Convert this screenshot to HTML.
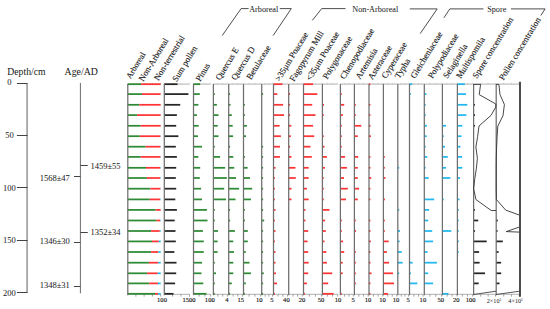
<!DOCTYPE html>
<html><head><meta charset="utf-8"><style>
html,body{margin:0;padding:0;background:#fff;}
body{width:550px;height:309px;overflow:hidden;}
svg{display:block;}
text{font-family:"Liberation Serif",serif;fill:#151515;}
.r{stroke:#151515;stroke-width:0.12px;}
.n{stroke:#151515;stroke-width:0.15px;}
</style></head><body>
<svg width="550" height="309" viewBox="0 0 550 309">
<rect width="550" height="309" fill="#fff"/>
<text x="7.30" y="75.00" font-size="9.7" text-anchor="start" >Depth/cm</text>
<line x1="27.10" y1="83.40" x2="27.10" y2="292.40" stroke="#a6a6a6" stroke-width="1.8"/>
<line x1="16.90" y1="83.50" x2="27.60" y2="83.50" stroke="#444" stroke-width="1.0"/>
<text x="9.40" y="85.10" font-size="8.5" text-anchor="middle" >0</text>
<line x1="16.90" y1="135.50" x2="27.60" y2="135.50" stroke="#444" stroke-width="1.0"/>
<text x="9.40" y="138.45" font-size="8.5" text-anchor="middle" >50</text>
<line x1="16.90" y1="187.50" x2="27.60" y2="187.50" stroke="#444" stroke-width="1.0"/>
<text x="9.40" y="190.80" font-size="8.5" text-anchor="middle" >100</text>
<line x1="16.90" y1="240.50" x2="27.60" y2="240.50" stroke="#444" stroke-width="1.0"/>
<text x="9.40" y="243.45" font-size="8.5" text-anchor="middle" >150</text>
<line x1="16.90" y1="292.50" x2="27.60" y2="292.50" stroke="#444" stroke-width="1.0"/>
<text x="9.40" y="295.70" font-size="8.5" text-anchor="middle" >200</text>
<text x="64.60" y="74.80" font-size="9.8" text-anchor="start" >Age/AD</text>
<line x1="80.40" y1="82.90" x2="80.40" y2="293.30" stroke="#6c6c6c" stroke-width="1.0"/>
<line x1="74.00" y1="176.50" x2="80.40" y2="176.50" stroke="#444" stroke-width="1.0"/>
<text x="69.80" y="180.80" font-size="8.5" text-anchor="end" >1568±47</text>
<line x1="74.00" y1="242.50" x2="80.40" y2="242.50" stroke="#444" stroke-width="1.0"/>
<text x="69.80" y="243.70" font-size="8.5" text-anchor="end" >1346±30</text>
<line x1="74.00" y1="286.50" x2="80.40" y2="286.50" stroke="#444" stroke-width="1.0"/>
<text x="69.80" y="288.10" font-size="8.5" text-anchor="end" >1348±31</text>
<line x1="80.40" y1="165.50" x2="87.80" y2="165.50" stroke="#444" stroke-width="1.0"/>
<text x="90.40" y="168.50" font-size="8.5" text-anchor="start" >1459±55</text>
<line x1="80.40" y1="232.50" x2="87.80" y2="232.50" stroke="#444" stroke-width="1.0"/>
<text x="90.40" y="234.90" font-size="8.5" text-anchor="start" >1352±34</text>
<line x1="127.60" y1="84.10" x2="160.70" y2="84.10" stroke="#a8a8a8" stroke-width="0.9"/>
<line x1="127.60" y1="294.30" x2="160.70" y2="294.30" stroke="#a8a8a8" stroke-width="0.9"/>
<line x1="135.88" y1="294.30" x2="135.88" y2="296.60" stroke="#8a8a8a" stroke-width="0.8"/>
<line x1="135.88" y1="84.10" x2="135.88" y2="82.90" stroke="#bbb" stroke-width="0.7"/>
<line x1="144.15" y1="294.30" x2="144.15" y2="296.60" stroke="#8a8a8a" stroke-width="0.8"/>
<line x1="144.15" y1="84.10" x2="144.15" y2="82.90" stroke="#bbb" stroke-width="0.7"/>
<line x1="152.42" y1="294.30" x2="152.42" y2="296.60" stroke="#8a8a8a" stroke-width="0.8"/>
<line x1="152.42" y1="84.10" x2="152.42" y2="82.90" stroke="#bbb" stroke-width="0.7"/>
<line x1="160.70" y1="294.30" x2="160.70" y2="296.60" stroke="#8a8a8a" stroke-width="0.8"/>
<line x1="160.70" y1="84.10" x2="160.70" y2="82.90" stroke="#bbb" stroke-width="0.7"/>
<line x1="164.10" y1="84.10" x2="189.50" y2="84.10" stroke="#a8a8a8" stroke-width="0.9"/>
<line x1="164.10" y1="294.30" x2="189.50" y2="294.30" stroke="#a8a8a8" stroke-width="0.9"/>
<line x1="172.57" y1="294.30" x2="172.57" y2="296.60" stroke="#8a8a8a" stroke-width="0.8"/>
<line x1="172.57" y1="84.10" x2="172.57" y2="82.90" stroke="#bbb" stroke-width="0.7"/>
<line x1="181.03" y1="294.30" x2="181.03" y2="296.60" stroke="#8a8a8a" stroke-width="0.8"/>
<line x1="181.03" y1="84.10" x2="181.03" y2="82.90" stroke="#bbb" stroke-width="0.7"/>
<line x1="189.50" y1="294.30" x2="189.50" y2="296.60" stroke="#8a8a8a" stroke-width="0.8"/>
<line x1="189.50" y1="84.10" x2="189.50" y2="82.90" stroke="#bbb" stroke-width="0.7"/>
<line x1="193.30" y1="84.10" x2="210.70" y2="84.10" stroke="#a8a8a8" stroke-width="0.9"/>
<line x1="193.30" y1="294.30" x2="210.70" y2="294.30" stroke="#a8a8a8" stroke-width="0.9"/>
<line x1="199.10" y1="294.30" x2="199.10" y2="296.60" stroke="#8a8a8a" stroke-width="0.8"/>
<line x1="199.10" y1="84.10" x2="199.10" y2="82.90" stroke="#bbb" stroke-width="0.7"/>
<line x1="204.90" y1="294.30" x2="204.90" y2="296.60" stroke="#8a8a8a" stroke-width="0.8"/>
<line x1="204.90" y1="84.10" x2="204.90" y2="82.90" stroke="#bbb" stroke-width="0.7"/>
<line x1="210.70" y1="294.30" x2="210.70" y2="296.60" stroke="#8a8a8a" stroke-width="0.8"/>
<line x1="210.70" y1="84.10" x2="210.70" y2="82.90" stroke="#bbb" stroke-width="0.7"/>
<line x1="213.20" y1="84.10" x2="227.40" y2="84.10" stroke="#a8a8a8" stroke-width="0.9"/>
<line x1="213.20" y1="294.30" x2="227.40" y2="294.30" stroke="#a8a8a8" stroke-width="0.9"/>
<line x1="217.93" y1="294.30" x2="217.93" y2="296.60" stroke="#8a8a8a" stroke-width="0.8"/>
<line x1="217.93" y1="84.10" x2="217.93" y2="82.90" stroke="#bbb" stroke-width="0.7"/>
<line x1="222.67" y1="294.30" x2="222.67" y2="296.60" stroke="#8a8a8a" stroke-width="0.8"/>
<line x1="222.67" y1="84.10" x2="222.67" y2="82.90" stroke="#bbb" stroke-width="0.7"/>
<line x1="227.40" y1="294.30" x2="227.40" y2="296.60" stroke="#8a8a8a" stroke-width="0.8"/>
<line x1="227.40" y1="84.10" x2="227.40" y2="82.90" stroke="#bbb" stroke-width="0.7"/>
<line x1="228.50" y1="84.10" x2="242.40" y2="84.10" stroke="#a8a8a8" stroke-width="0.9"/>
<line x1="228.50" y1="294.30" x2="242.40" y2="294.30" stroke="#a8a8a8" stroke-width="0.9"/>
<line x1="233.13" y1="294.30" x2="233.13" y2="296.60" stroke="#8a8a8a" stroke-width="0.8"/>
<line x1="233.13" y1="84.10" x2="233.13" y2="82.90" stroke="#bbb" stroke-width="0.7"/>
<line x1="237.77" y1="294.30" x2="237.77" y2="296.60" stroke="#8a8a8a" stroke-width="0.8"/>
<line x1="237.77" y1="84.10" x2="237.77" y2="82.90" stroke="#bbb" stroke-width="0.7"/>
<line x1="242.40" y1="294.30" x2="242.40" y2="296.60" stroke="#8a8a8a" stroke-width="0.8"/>
<line x1="242.40" y1="84.10" x2="242.40" y2="82.90" stroke="#bbb" stroke-width="0.7"/>
<line x1="243.30" y1="84.10" x2="260.60" y2="84.10" stroke="#a8a8a8" stroke-width="0.9"/>
<line x1="243.30" y1="294.30" x2="260.60" y2="294.30" stroke="#a8a8a8" stroke-width="0.9"/>
<line x1="249.07" y1="294.30" x2="249.07" y2="296.60" stroke="#8a8a8a" stroke-width="0.8"/>
<line x1="249.07" y1="84.10" x2="249.07" y2="82.90" stroke="#bbb" stroke-width="0.7"/>
<line x1="254.83" y1="294.30" x2="254.83" y2="296.60" stroke="#8a8a8a" stroke-width="0.8"/>
<line x1="254.83" y1="84.10" x2="254.83" y2="82.90" stroke="#bbb" stroke-width="0.7"/>
<line x1="260.60" y1="294.30" x2="260.60" y2="296.60" stroke="#8a8a8a" stroke-width="0.8"/>
<line x1="260.60" y1="84.10" x2="260.60" y2="82.90" stroke="#bbb" stroke-width="0.7"/>
<line x1="261.50" y1="84.10" x2="272.50" y2="84.10" stroke="#a8a8a8" stroke-width="0.9"/>
<line x1="261.50" y1="294.30" x2="272.50" y2="294.30" stroke="#a8a8a8" stroke-width="0.9"/>
<line x1="265.17" y1="294.30" x2="265.17" y2="296.60" stroke="#8a8a8a" stroke-width="0.8"/>
<line x1="265.17" y1="84.10" x2="265.17" y2="82.90" stroke="#bbb" stroke-width="0.7"/>
<line x1="268.83" y1="294.30" x2="268.83" y2="296.60" stroke="#8a8a8a" stroke-width="0.8"/>
<line x1="268.83" y1="84.10" x2="268.83" y2="82.90" stroke="#bbb" stroke-width="0.7"/>
<line x1="272.50" y1="294.30" x2="272.50" y2="296.60" stroke="#8a8a8a" stroke-width="0.8"/>
<line x1="272.50" y1="84.10" x2="272.50" y2="82.90" stroke="#bbb" stroke-width="0.7"/>
<line x1="273.30" y1="84.10" x2="287.50" y2="84.10" stroke="#a8a8a8" stroke-width="0.9"/>
<line x1="273.30" y1="294.30" x2="287.50" y2="294.30" stroke="#a8a8a8" stroke-width="0.9"/>
<line x1="278.03" y1="294.30" x2="278.03" y2="296.60" stroke="#8a8a8a" stroke-width="0.8"/>
<line x1="278.03" y1="84.10" x2="278.03" y2="82.90" stroke="#bbb" stroke-width="0.7"/>
<line x1="282.77" y1="294.30" x2="282.77" y2="296.60" stroke="#8a8a8a" stroke-width="0.8"/>
<line x1="282.77" y1="84.10" x2="282.77" y2="82.90" stroke="#bbb" stroke-width="0.7"/>
<line x1="287.50" y1="294.30" x2="287.50" y2="296.60" stroke="#8a8a8a" stroke-width="0.8"/>
<line x1="287.50" y1="84.10" x2="287.50" y2="82.90" stroke="#bbb" stroke-width="0.7"/>
<line x1="288.50" y1="84.10" x2="302.30" y2="84.10" stroke="#a8a8a8" stroke-width="0.9"/>
<line x1="288.50" y1="294.30" x2="302.30" y2="294.30" stroke="#a8a8a8" stroke-width="0.9"/>
<line x1="293.10" y1="294.30" x2="293.10" y2="296.60" stroke="#8a8a8a" stroke-width="0.8"/>
<line x1="293.10" y1="84.10" x2="293.10" y2="82.90" stroke="#bbb" stroke-width="0.7"/>
<line x1="297.70" y1="294.30" x2="297.70" y2="296.60" stroke="#8a8a8a" stroke-width="0.8"/>
<line x1="297.70" y1="84.10" x2="297.70" y2="82.90" stroke="#bbb" stroke-width="0.7"/>
<line x1="302.30" y1="294.30" x2="302.30" y2="296.60" stroke="#8a8a8a" stroke-width="0.8"/>
<line x1="302.30" y1="84.10" x2="302.30" y2="82.90" stroke="#bbb" stroke-width="0.7"/>
<line x1="303.30" y1="84.10" x2="321.50" y2="84.10" stroke="#a8a8a8" stroke-width="0.9"/>
<line x1="303.30" y1="294.30" x2="321.50" y2="294.30" stroke="#a8a8a8" stroke-width="0.9"/>
<line x1="309.37" y1="294.30" x2="309.37" y2="296.60" stroke="#8a8a8a" stroke-width="0.8"/>
<line x1="309.37" y1="84.10" x2="309.37" y2="82.90" stroke="#bbb" stroke-width="0.7"/>
<line x1="315.43" y1="294.30" x2="315.43" y2="296.60" stroke="#8a8a8a" stroke-width="0.8"/>
<line x1="315.43" y1="84.10" x2="315.43" y2="82.90" stroke="#bbb" stroke-width="0.7"/>
<line x1="321.50" y1="294.30" x2="321.50" y2="296.60" stroke="#8a8a8a" stroke-width="0.8"/>
<line x1="321.50" y1="84.10" x2="321.50" y2="82.90" stroke="#bbb" stroke-width="0.7"/>
<line x1="322.20" y1="84.10" x2="337.70" y2="84.10" stroke="#a8a8a8" stroke-width="0.9"/>
<line x1="322.20" y1="294.30" x2="337.70" y2="294.30" stroke="#a8a8a8" stroke-width="0.9"/>
<line x1="327.37" y1="294.30" x2="327.37" y2="296.60" stroke="#8a8a8a" stroke-width="0.8"/>
<line x1="327.37" y1="84.10" x2="327.37" y2="82.90" stroke="#bbb" stroke-width="0.7"/>
<line x1="332.53" y1="294.30" x2="332.53" y2="296.60" stroke="#8a8a8a" stroke-width="0.8"/>
<line x1="332.53" y1="84.10" x2="332.53" y2="82.90" stroke="#bbb" stroke-width="0.7"/>
<line x1="337.70" y1="294.30" x2="337.70" y2="296.60" stroke="#8a8a8a" stroke-width="0.8"/>
<line x1="337.70" y1="84.10" x2="337.70" y2="82.90" stroke="#bbb" stroke-width="0.7"/>
<line x1="340.20" y1="84.10" x2="353.40" y2="84.10" stroke="#a8a8a8" stroke-width="0.9"/>
<line x1="340.20" y1="294.30" x2="353.40" y2="294.30" stroke="#a8a8a8" stroke-width="0.9"/>
<line x1="344.60" y1="294.30" x2="344.60" y2="296.60" stroke="#8a8a8a" stroke-width="0.8"/>
<line x1="344.60" y1="84.10" x2="344.60" y2="82.90" stroke="#bbb" stroke-width="0.7"/>
<line x1="349.00" y1="294.30" x2="349.00" y2="296.60" stroke="#8a8a8a" stroke-width="0.8"/>
<line x1="349.00" y1="84.10" x2="349.00" y2="82.90" stroke="#bbb" stroke-width="0.7"/>
<line x1="353.40" y1="294.30" x2="353.40" y2="296.60" stroke="#8a8a8a" stroke-width="0.8"/>
<line x1="353.40" y1="84.10" x2="353.40" y2="82.90" stroke="#bbb" stroke-width="0.7"/>
<line x1="354.20" y1="84.10" x2="368.20" y2="84.10" stroke="#a8a8a8" stroke-width="0.9"/>
<line x1="354.20" y1="294.30" x2="368.20" y2="294.30" stroke="#a8a8a8" stroke-width="0.9"/>
<line x1="358.87" y1="294.30" x2="358.87" y2="296.60" stroke="#8a8a8a" stroke-width="0.8"/>
<line x1="358.87" y1="84.10" x2="358.87" y2="82.90" stroke="#bbb" stroke-width="0.7"/>
<line x1="363.53" y1="294.30" x2="363.53" y2="296.60" stroke="#8a8a8a" stroke-width="0.8"/>
<line x1="363.53" y1="84.10" x2="363.53" y2="82.90" stroke="#bbb" stroke-width="0.7"/>
<line x1="368.20" y1="294.30" x2="368.20" y2="296.60" stroke="#8a8a8a" stroke-width="0.8"/>
<line x1="368.20" y1="84.10" x2="368.20" y2="82.90" stroke="#bbb" stroke-width="0.7"/>
<line x1="368.80" y1="84.10" x2="382.80" y2="84.10" stroke="#a8a8a8" stroke-width="0.9"/>
<line x1="368.80" y1="294.30" x2="382.80" y2="294.30" stroke="#a8a8a8" stroke-width="0.9"/>
<line x1="373.47" y1="294.30" x2="373.47" y2="296.60" stroke="#8a8a8a" stroke-width="0.8"/>
<line x1="373.47" y1="84.10" x2="373.47" y2="82.90" stroke="#bbb" stroke-width="0.7"/>
<line x1="378.13" y1="294.30" x2="378.13" y2="296.60" stroke="#8a8a8a" stroke-width="0.8"/>
<line x1="378.13" y1="84.10" x2="378.13" y2="82.90" stroke="#bbb" stroke-width="0.7"/>
<line x1="382.80" y1="294.30" x2="382.80" y2="296.60" stroke="#8a8a8a" stroke-width="0.8"/>
<line x1="382.80" y1="84.10" x2="382.80" y2="82.90" stroke="#bbb" stroke-width="0.7"/>
<line x1="383.20" y1="84.10" x2="396.80" y2="84.10" stroke="#a8a8a8" stroke-width="0.9"/>
<line x1="383.20" y1="294.30" x2="396.80" y2="294.30" stroke="#a8a8a8" stroke-width="0.9"/>
<line x1="387.73" y1="294.30" x2="387.73" y2="296.60" stroke="#8a8a8a" stroke-width="0.8"/>
<line x1="387.73" y1="84.10" x2="387.73" y2="82.90" stroke="#bbb" stroke-width="0.7"/>
<line x1="392.27" y1="294.30" x2="392.27" y2="296.60" stroke="#8a8a8a" stroke-width="0.8"/>
<line x1="392.27" y1="84.10" x2="392.27" y2="82.90" stroke="#bbb" stroke-width="0.7"/>
<line x1="396.80" y1="294.30" x2="396.80" y2="296.60" stroke="#8a8a8a" stroke-width="0.8"/>
<line x1="396.80" y1="84.10" x2="396.80" y2="82.90" stroke="#bbb" stroke-width="0.7"/>
<line x1="397.60" y1="84.10" x2="408.60" y2="84.10" stroke="#a8a8a8" stroke-width="0.9"/>
<line x1="397.60" y1="294.30" x2="408.60" y2="294.30" stroke="#a8a8a8" stroke-width="0.9"/>
<line x1="401.27" y1="294.30" x2="401.27" y2="296.60" stroke="#8a8a8a" stroke-width="0.8"/>
<line x1="401.27" y1="84.10" x2="401.27" y2="82.90" stroke="#bbb" stroke-width="0.7"/>
<line x1="404.93" y1="294.30" x2="404.93" y2="296.60" stroke="#8a8a8a" stroke-width="0.8"/>
<line x1="404.93" y1="84.10" x2="404.93" y2="82.90" stroke="#bbb" stroke-width="0.7"/>
<line x1="408.60" y1="294.30" x2="408.60" y2="296.60" stroke="#8a8a8a" stroke-width="0.8"/>
<line x1="408.60" y1="84.10" x2="408.60" y2="82.90" stroke="#bbb" stroke-width="0.7"/>
<line x1="409.30" y1="84.10" x2="423.10" y2="84.10" stroke="#a8a8a8" stroke-width="0.9"/>
<line x1="409.30" y1="294.30" x2="423.10" y2="294.30" stroke="#a8a8a8" stroke-width="0.9"/>
<line x1="413.90" y1="294.30" x2="413.90" y2="296.60" stroke="#8a8a8a" stroke-width="0.8"/>
<line x1="413.90" y1="84.10" x2="413.90" y2="82.90" stroke="#bbb" stroke-width="0.7"/>
<line x1="418.50" y1="294.30" x2="418.50" y2="296.60" stroke="#8a8a8a" stroke-width="0.8"/>
<line x1="418.50" y1="84.10" x2="418.50" y2="82.90" stroke="#bbb" stroke-width="0.7"/>
<line x1="423.10" y1="294.30" x2="423.10" y2="296.60" stroke="#8a8a8a" stroke-width="0.8"/>
<line x1="423.10" y1="84.10" x2="423.10" y2="82.90" stroke="#bbb" stroke-width="0.7"/>
<line x1="424.10" y1="84.10" x2="441.60" y2="84.10" stroke="#a8a8a8" stroke-width="0.9"/>
<line x1="424.10" y1="294.30" x2="441.60" y2="294.30" stroke="#a8a8a8" stroke-width="0.9"/>
<line x1="429.93" y1="294.30" x2="429.93" y2="296.60" stroke="#8a8a8a" stroke-width="0.8"/>
<line x1="429.93" y1="84.10" x2="429.93" y2="82.90" stroke="#bbb" stroke-width="0.7"/>
<line x1="435.77" y1="294.30" x2="435.77" y2="296.60" stroke="#8a8a8a" stroke-width="0.8"/>
<line x1="435.77" y1="84.10" x2="435.77" y2="82.90" stroke="#bbb" stroke-width="0.7"/>
<line x1="441.60" y1="294.30" x2="441.60" y2="296.60" stroke="#8a8a8a" stroke-width="0.8"/>
<line x1="441.60" y1="84.10" x2="441.60" y2="82.90" stroke="#bbb" stroke-width="0.7"/>
<line x1="442.20" y1="84.10" x2="457.00" y2="84.10" stroke="#a8a8a8" stroke-width="0.9"/>
<line x1="442.20" y1="294.30" x2="457.00" y2="294.30" stroke="#a8a8a8" stroke-width="0.9"/>
<line x1="447.13" y1="294.30" x2="447.13" y2="296.60" stroke="#8a8a8a" stroke-width="0.8"/>
<line x1="447.13" y1="84.10" x2="447.13" y2="82.90" stroke="#bbb" stroke-width="0.7"/>
<line x1="452.07" y1="294.30" x2="452.07" y2="296.60" stroke="#8a8a8a" stroke-width="0.8"/>
<line x1="452.07" y1="84.10" x2="452.07" y2="82.90" stroke="#bbb" stroke-width="0.7"/>
<line x1="457.00" y1="294.30" x2="457.00" y2="296.60" stroke="#8a8a8a" stroke-width="0.8"/>
<line x1="457.00" y1="84.10" x2="457.00" y2="82.90" stroke="#bbb" stroke-width="0.7"/>
<line x1="457.20" y1="84.10" x2="472.60" y2="84.10" stroke="#a8a8a8" stroke-width="0.9"/>
<line x1="457.20" y1="294.30" x2="472.60" y2="294.30" stroke="#a8a8a8" stroke-width="0.9"/>
<line x1="462.33" y1="294.30" x2="462.33" y2="296.60" stroke="#8a8a8a" stroke-width="0.8"/>
<line x1="462.33" y1="84.10" x2="462.33" y2="82.90" stroke="#bbb" stroke-width="0.7"/>
<line x1="467.47" y1="294.30" x2="467.47" y2="296.60" stroke="#8a8a8a" stroke-width="0.8"/>
<line x1="467.47" y1="84.10" x2="467.47" y2="82.90" stroke="#bbb" stroke-width="0.7"/>
<line x1="472.60" y1="294.30" x2="472.60" y2="296.60" stroke="#8a8a8a" stroke-width="0.8"/>
<line x1="472.60" y1="84.10" x2="472.60" y2="82.90" stroke="#bbb" stroke-width="0.7"/>
<line x1="473.40" y1="84.10" x2="495.50" y2="84.10" stroke="#a8a8a8" stroke-width="0.9"/>
<line x1="473.40" y1="294.30" x2="495.50" y2="294.30" stroke="#a8a8a8" stroke-width="0.9"/>
<line x1="480.77" y1="294.30" x2="480.77" y2="296.60" stroke="#8a8a8a" stroke-width="0.8"/>
<line x1="480.77" y1="84.10" x2="480.77" y2="82.90" stroke="#bbb" stroke-width="0.7"/>
<line x1="488.13" y1="294.30" x2="488.13" y2="296.60" stroke="#8a8a8a" stroke-width="0.8"/>
<line x1="488.13" y1="84.10" x2="488.13" y2="82.90" stroke="#bbb" stroke-width="0.7"/>
<line x1="495.50" y1="294.30" x2="495.50" y2="296.60" stroke="#8a8a8a" stroke-width="0.8"/>
<line x1="495.50" y1="84.10" x2="495.50" y2="82.90" stroke="#bbb" stroke-width="0.7"/>
<line x1="496.00" y1="84.10" x2="519.20" y2="84.10" stroke="#a8a8a8" stroke-width="0.9"/>
<line x1="496.00" y1="294.30" x2="519.20" y2="294.30" stroke="#a8a8a8" stroke-width="0.9"/>
<line x1="503.73" y1="294.30" x2="503.73" y2="296.60" stroke="#8a8a8a" stroke-width="0.8"/>
<line x1="503.73" y1="84.10" x2="503.73" y2="82.90" stroke="#bbb" stroke-width="0.7"/>
<line x1="511.47" y1="294.30" x2="511.47" y2="296.60" stroke="#8a8a8a" stroke-width="0.8"/>
<line x1="511.47" y1="84.10" x2="511.47" y2="82.90" stroke="#bbb" stroke-width="0.7"/>
<line x1="519.20" y1="294.30" x2="519.20" y2="296.60" stroke="#8a8a8a" stroke-width="0.8"/>
<line x1="519.20" y1="84.10" x2="519.20" y2="82.90" stroke="#bbb" stroke-width="0.7"/>
<rect x="127.60" y="83.33" width="13.50" height="1.75" fill="#2e8b35"/>
<rect x="141.10" y="83.33" width="19.60" height="1.75" fill="#ff3535"/>
<rect x="127.60" y="93.22" width="14.40" height="1.75" fill="#2e8b35"/>
<rect x="142.00" y="93.22" width="18.70" height="1.75" fill="#ff3535"/>
<rect x="127.60" y="103.92" width="11.70" height="1.75" fill="#2e8b35"/>
<rect x="139.30" y="103.92" width="21.40" height="1.75" fill="#ff3535"/>
<rect x="127.60" y="114.22" width="9.50" height="1.75" fill="#2e8b35"/>
<rect x="137.10" y="114.22" width="23.60" height="1.75" fill="#ff3535"/>
<rect x="127.60" y="124.92" width="13.10" height="1.75" fill="#2e8b35"/>
<rect x="140.70" y="124.92" width="20.00" height="1.75" fill="#ff3535"/>
<rect x="127.60" y="135.32" width="12.20" height="1.75" fill="#2e8b35"/>
<rect x="139.80" y="135.32" width="20.70" height="1.75" fill="#ff3535"/>
<rect x="160.50" y="135.32" width="0.20" height="1.75" fill="#22b8ee"/>
<rect x="127.60" y="145.82" width="18.00" height="1.75" fill="#2e8b35"/>
<rect x="145.60" y="145.82" width="14.90" height="1.75" fill="#ff3535"/>
<rect x="160.50" y="145.82" width="0.20" height="1.75" fill="#22b8ee"/>
<rect x="127.60" y="156.03" width="13.10" height="1.75" fill="#2e8b35"/>
<rect x="140.70" y="156.03" width="19.80" height="1.75" fill="#ff3535"/>
<rect x="160.50" y="156.03" width="0.20" height="1.75" fill="#22b8ee"/>
<rect x="127.60" y="166.93" width="18.40" height="1.75" fill="#2e8b35"/>
<rect x="146.00" y="166.93" width="14.20" height="1.75" fill="#ff3535"/>
<rect x="160.20" y="166.93" width="0.50" height="1.75" fill="#22b8ee"/>
<rect x="127.60" y="177.12" width="19.30" height="1.75" fill="#2e8b35"/>
<rect x="146.90" y="177.12" width="13.30" height="1.75" fill="#ff3535"/>
<rect x="160.20" y="177.12" width="0.50" height="1.75" fill="#22b8ee"/>
<rect x="127.60" y="187.82" width="22.90" height="1.75" fill="#2e8b35"/>
<rect x="150.50" y="187.82" width="10.00" height="1.75" fill="#ff3535"/>
<rect x="160.50" y="187.82" width="0.20" height="1.75" fill="#22b8ee"/>
<rect x="127.60" y="198.53" width="22.20" height="1.75" fill="#2e8b35"/>
<rect x="149.80" y="198.53" width="10.40" height="1.75" fill="#ff3535"/>
<rect x="160.20" y="198.53" width="0.50" height="1.75" fill="#22b8ee"/>
<rect x="127.60" y="209.03" width="28.00" height="1.75" fill="#2e8b35"/>
<rect x="155.60" y="209.03" width="5.10" height="1.75" fill="#ff3535"/>
<rect x="127.60" y="219.62" width="28.90" height="1.75" fill="#2e8b35"/>
<rect x="156.50" y="219.62" width="3.70" height="1.75" fill="#ff3535"/>
<rect x="160.20" y="219.62" width="0.50" height="1.75" fill="#22b8ee"/>
<rect x="127.60" y="230.12" width="23.50" height="1.75" fill="#2e8b35"/>
<rect x="151.10" y="230.12" width="8.70" height="1.75" fill="#ff3535"/>
<rect x="159.80" y="230.12" width="0.90" height="1.75" fill="#22b8ee"/>
<rect x="127.60" y="240.53" width="24.40" height="1.75" fill="#2e8b35"/>
<rect x="152.00" y="240.53" width="6.90" height="1.75" fill="#ff3535"/>
<rect x="158.90" y="240.53" width="1.80" height="1.75" fill="#22b8ee"/>
<rect x="127.60" y="251.12" width="23.50" height="1.75" fill="#2e8b35"/>
<rect x="151.10" y="251.12" width="7.30" height="1.75" fill="#ff3535"/>
<rect x="158.40" y="251.12" width="2.30" height="1.75" fill="#22b8ee"/>
<rect x="127.60" y="261.82" width="21.30" height="1.75" fill="#2e8b35"/>
<rect x="148.90" y="261.82" width="9.50" height="1.75" fill="#ff3535"/>
<rect x="158.40" y="261.82" width="2.30" height="1.75" fill="#22b8ee"/>
<rect x="127.60" y="272.43" width="19.50" height="1.75" fill="#2e8b35"/>
<rect x="147.10" y="272.43" width="10.70" height="1.75" fill="#ff3535"/>
<rect x="157.80" y="272.43" width="2.90" height="1.75" fill="#22b8ee"/>
<rect x="127.60" y="282.52" width="21.70" height="1.75" fill="#2e8b35"/>
<rect x="149.30" y="282.52" width="8.70" height="1.75" fill="#ff3535"/>
<rect x="158.00" y="282.52" width="2.70" height="1.75" fill="#22b8ee"/>
<rect x="127.60" y="292.93" width="27.40" height="1.75" fill="#2e8b35"/>
<rect x="155.00" y="292.93" width="3.20" height="1.75" fill="#ff3535"/>
<rect x="158.20" y="292.93" width="2.50" height="1.75" fill="#22b8ee"/>
<rect x="164.10" y="83.33" width="13.40" height="1.75" fill="#262626"/>
<rect x="164.10" y="93.22" width="24.30" height="1.75" fill="#262626"/>
<rect x="164.10" y="103.92" width="16.10" height="1.75" fill="#262626"/>
<rect x="164.10" y="114.22" width="12.80" height="1.75" fill="#262626"/>
<rect x="164.10" y="124.92" width="12.10" height="1.75" fill="#262626"/>
<rect x="164.10" y="135.32" width="14.30" height="1.75" fill="#262626"/>
<rect x="164.10" y="145.82" width="11.70" height="1.75" fill="#262626"/>
<rect x="164.10" y="156.03" width="12.80" height="1.75" fill="#262626"/>
<rect x="164.10" y="166.93" width="12.10" height="1.75" fill="#262626"/>
<rect x="164.10" y="177.12" width="11.70" height="1.75" fill="#262626"/>
<rect x="164.10" y="187.82" width="12.10" height="1.75" fill="#262626"/>
<rect x="164.10" y="198.53" width="11.20" height="1.75" fill="#262626"/>
<rect x="164.10" y="209.03" width="12.80" height="1.75" fill="#262626"/>
<rect x="164.10" y="219.62" width="10.60" height="1.75" fill="#262626"/>
<rect x="164.10" y="230.12" width="11.40" height="1.75" fill="#262626"/>
<rect x="164.10" y="240.53" width="11.70" height="1.75" fill="#262626"/>
<rect x="164.10" y="251.12" width="10.30" height="1.75" fill="#262626"/>
<rect x="164.10" y="261.82" width="12.40" height="1.75" fill="#262626"/>
<rect x="164.10" y="272.43" width="12.10" height="1.75" fill="#262626"/>
<rect x="164.10" y="282.52" width="11.00" height="1.75" fill="#262626"/>
<rect x="164.10" y="292.93" width="9.40" height="1.75" fill="#262626"/>
<rect x="193.30" y="83.33" width="6.90" height="1.75" fill="#2e8b35"/>
<rect x="193.30" y="93.22" width="6.50" height="1.75" fill="#2e8b35"/>
<rect x="193.30" y="103.92" width="5.10" height="1.75" fill="#2e8b35"/>
<rect x="193.30" y="114.22" width="3.60" height="1.75" fill="#2e8b35"/>
<rect x="193.30" y="124.92" width="5.40" height="1.75" fill="#2e8b35"/>
<rect x="193.30" y="135.32" width="4.70" height="1.75" fill="#2e8b35"/>
<rect x="193.30" y="145.82" width="8.70" height="1.75" fill="#2e8b35"/>
<rect x="193.30" y="156.03" width="5.10" height="1.75" fill="#2e8b35"/>
<rect x="193.30" y="166.93" width="6.90" height="1.75" fill="#2e8b35"/>
<rect x="193.30" y="177.12" width="6.50" height="1.75" fill="#2e8b35"/>
<rect x="193.30" y="187.82" width="7.80" height="1.75" fill="#2e8b35"/>
<rect x="193.30" y="198.53" width="8.70" height="1.75" fill="#2e8b35"/>
<rect x="193.30" y="209.03" width="13.60" height="1.75" fill="#2e8b35"/>
<rect x="193.30" y="219.62" width="14.20" height="1.75" fill="#2e8b35"/>
<rect x="193.30" y="230.12" width="9.60" height="1.75" fill="#2e8b35"/>
<rect x="193.30" y="240.53" width="10.50" height="1.75" fill="#2e8b35"/>
<rect x="193.30" y="251.12" width="10.50" height="1.75" fill="#2e8b35"/>
<rect x="193.30" y="261.82" width="8.70" height="1.75" fill="#2e8b35"/>
<rect x="193.30" y="272.43" width="8.20" height="1.75" fill="#2e8b35"/>
<rect x="193.30" y="282.52" width="10.00" height="1.75" fill="#2e8b35"/>
<rect x="193.30" y="292.93" width="13.20" height="1.75" fill="#2e8b35"/>
<rect x="213.20" y="93.22" width="1.60" height="1.75" fill="#2e8b35"/>
<rect x="213.20" y="103.92" width="3.70" height="1.75" fill="#2e8b35"/>
<rect x="213.20" y="114.22" width="5.30" height="1.75" fill="#2e8b35"/>
<rect x="213.20" y="124.92" width="4.50" height="1.75" fill="#2e8b35"/>
<rect x="213.20" y="135.32" width="5.30" height="1.75" fill="#2e8b35"/>
<rect x="213.20" y="145.82" width="1.60" height="1.75" fill="#2e8b35"/>
<rect x="213.20" y="156.03" width="6.90" height="1.75" fill="#2e8b35"/>
<rect x="213.20" y="166.93" width="11.90" height="1.75" fill="#2e8b35"/>
<rect x="213.20" y="177.12" width="13.70" height="1.75" fill="#2e8b35"/>
<rect x="213.20" y="187.82" width="11.00" height="1.75" fill="#2e8b35"/>
<rect x="213.20" y="198.53" width="12.80" height="1.75" fill="#2e8b35"/>
<rect x="213.20" y="209.03" width="1.60" height="1.75" fill="#2e8b35"/>
<rect x="213.20" y="219.62" width="1.60" height="1.75" fill="#2e8b35"/>
<rect x="213.20" y="230.12" width="4.80" height="1.75" fill="#2e8b35"/>
<rect x="213.20" y="240.53" width="4.40" height="1.75" fill="#2e8b35"/>
<rect x="213.20" y="251.12" width="4.40" height="1.75" fill="#2e8b35"/>
<rect x="213.20" y="261.82" width="1.60" height="1.75" fill="#2e8b35"/>
<rect x="213.20" y="272.43" width="2.80" height="1.75" fill="#2e8b35"/>
<rect x="213.20" y="282.52" width="1.60" height="1.75" fill="#2e8b35"/>
<rect x="213.20" y="292.93" width="1.60" height="1.75" fill="#2e8b35"/>
<rect x="228.50" y="93.22" width="1.60" height="1.75" fill="#2e8b35"/>
<rect x="228.50" y="103.92" width="2.00" height="1.75" fill="#2e8b35"/>
<rect x="228.50" y="114.22" width="3.30" height="1.75" fill="#2e8b35"/>
<rect x="228.50" y="124.92" width="4.20" height="1.75" fill="#2e8b35"/>
<rect x="228.50" y="135.32" width="4.60" height="1.75" fill="#2e8b35"/>
<rect x="228.50" y="145.82" width="1.60" height="1.75" fill="#2e8b35"/>
<rect x="228.50" y="156.03" width="4.80" height="1.75" fill="#2e8b35"/>
<rect x="228.50" y="166.93" width="5.70" height="1.75" fill="#2e8b35"/>
<rect x="228.50" y="177.12" width="7.50" height="1.75" fill="#2e8b35"/>
<rect x="228.50" y="187.82" width="10.60" height="1.75" fill="#2e8b35"/>
<rect x="228.50" y="198.53" width="7.00" height="1.75" fill="#2e8b35"/>
<rect x="228.50" y="209.03" width="1.60" height="1.75" fill="#2e8b35"/>
<rect x="228.50" y="219.62" width="1.60" height="1.75" fill="#2e8b35"/>
<rect x="228.50" y="230.12" width="6.40" height="1.75" fill="#2e8b35"/>
<rect x="228.50" y="240.53" width="4.80" height="1.75" fill="#2e8b35"/>
<rect x="228.50" y="251.12" width="5.50" height="1.75" fill="#2e8b35"/>
<rect x="228.50" y="261.82" width="4.80" height="1.75" fill="#2e8b35"/>
<rect x="228.50" y="272.43" width="4.80" height="1.75" fill="#2e8b35"/>
<rect x="228.50" y="282.52" width="3.30" height="1.75" fill="#2e8b35"/>
<rect x="228.50" y="292.93" width="1.60" height="1.75" fill="#2e8b35"/>
<rect x="243.30" y="103.92" width="1.60" height="1.75" fill="#2e8b35"/>
<rect x="243.30" y="114.22" width="1.60" height="1.75" fill="#2e8b35"/>
<rect x="243.30" y="124.92" width="3.60" height="1.75" fill="#2e8b35"/>
<rect x="243.30" y="135.32" width="2.70" height="1.75" fill="#2e8b35"/>
<rect x="243.30" y="156.03" width="1.60" height="1.75" fill="#2e8b35"/>
<rect x="243.30" y="166.93" width="4.30" height="1.75" fill="#2e8b35"/>
<rect x="243.30" y="177.12" width="6.70" height="1.75" fill="#2e8b35"/>
<rect x="243.30" y="187.82" width="8.90" height="1.75" fill="#2e8b35"/>
<rect x="243.30" y="198.53" width="7.60" height="1.75" fill="#2e8b35"/>
<rect x="243.30" y="209.03" width="1.60" height="1.75" fill="#2e8b35"/>
<rect x="243.30" y="219.62" width="1.60" height="1.75" fill="#2e8b35"/>
<rect x="243.30" y="230.12" width="4.50" height="1.75" fill="#2e8b35"/>
<rect x="243.30" y="240.53" width="4.50" height="1.75" fill="#2e8b35"/>
<rect x="243.30" y="251.12" width="2.50" height="1.75" fill="#2e8b35"/>
<rect x="243.30" y="261.82" width="6.20" height="1.75" fill="#2e8b35"/>
<rect x="243.30" y="272.43" width="7.60" height="1.75" fill="#2e8b35"/>
<rect x="243.30" y="282.52" width="2.50" height="1.75" fill="#2e8b35"/>
<rect x="243.30" y="292.93" width="1.60" height="1.75" fill="#2e8b35"/>
<rect x="261.50" y="93.22" width="1.60" height="1.75" fill="#2e8b35"/>
<rect x="261.50" y="145.82" width="1.60" height="1.75" fill="#2e8b35"/>
<rect x="261.50" y="156.03" width="1.60" height="1.75" fill="#2e8b35"/>
<rect x="261.50" y="166.93" width="1.60" height="1.75" fill="#2e8b35"/>
<rect x="261.50" y="177.12" width="1.60" height="1.75" fill="#2e8b35"/>
<rect x="261.50" y="187.82" width="1.60" height="1.75" fill="#2e8b35"/>
<rect x="261.50" y="198.53" width="1.60" height="1.75" fill="#2e8b35"/>
<rect x="261.50" y="209.03" width="1.60" height="1.75" fill="#2e8b35"/>
<rect x="261.50" y="219.62" width="2.70" height="1.75" fill="#2e8b35"/>
<rect x="261.50" y="230.12" width="1.60" height="1.75" fill="#2e8b35"/>
<rect x="261.50" y="240.53" width="1.60" height="1.75" fill="#2e8b35"/>
<rect x="261.50" y="251.12" width="1.60" height="1.75" fill="#2e8b35"/>
<rect x="261.50" y="261.82" width="1.60" height="1.75" fill="#2e8b35"/>
<rect x="261.50" y="272.43" width="2.30" height="1.75" fill="#2e8b35"/>
<rect x="261.50" y="282.52" width="1.60" height="1.75" fill="#2e8b35"/>
<rect x="261.50" y="292.93" width="1.60" height="1.75" fill="#2e8b35"/>
<rect x="273.30" y="83.33" width="9.10" height="1.75" fill="#ff3535"/>
<rect x="273.30" y="93.22" width="4.00" height="1.75" fill="#ff3535"/>
<rect x="273.30" y="103.92" width="9.80" height="1.75" fill="#ff3535"/>
<rect x="273.30" y="114.22" width="10.70" height="1.75" fill="#ff3535"/>
<rect x="273.30" y="124.92" width="6.30" height="1.75" fill="#ff3535"/>
<rect x="273.30" y="135.32" width="7.60" height="1.75" fill="#ff3535"/>
<rect x="273.30" y="145.82" width="6.70" height="1.75" fill="#ff3535"/>
<rect x="273.30" y="156.03" width="6.70" height="1.75" fill="#ff3535"/>
<rect x="273.30" y="166.93" width="2.20" height="1.75" fill="#ff3535"/>
<rect x="273.30" y="177.12" width="1.60" height="1.75" fill="#ff3535"/>
<rect x="273.30" y="187.82" width="1.60" height="1.75" fill="#ff3535"/>
<rect x="273.30" y="198.53" width="1.60" height="1.75" fill="#ff3535"/>
<rect x="273.30" y="209.03" width="2.20" height="1.75" fill="#ff3535"/>
<rect x="273.30" y="219.62" width="1.60" height="1.75" fill="#ff3535"/>
<rect x="273.30" y="230.12" width="2.20" height="1.75" fill="#ff3535"/>
<rect x="273.30" y="240.53" width="1.60" height="1.75" fill="#ff3535"/>
<rect x="273.30" y="251.12" width="2.20" height="1.75" fill="#ff3535"/>
<rect x="273.30" y="261.82" width="2.20" height="1.75" fill="#ff3535"/>
<rect x="273.30" y="272.43" width="2.70" height="1.75" fill="#ff3535"/>
<rect x="273.30" y="282.52" width="3.70" height="1.75" fill="#ff3535"/>
<rect x="273.30" y="292.93" width="1.60" height="1.75" fill="#ff3535"/>
<rect x="288.50" y="93.22" width="1.60" height="1.75" fill="#ff3535"/>
<rect x="288.50" y="103.92" width="1.60" height="1.75" fill="#ff3535"/>
<rect x="288.50" y="114.22" width="1.60" height="1.75" fill="#ff3535"/>
<rect x="288.50" y="124.92" width="2.80" height="1.75" fill="#ff3535"/>
<rect x="288.50" y="135.32" width="2.40" height="1.75" fill="#ff3535"/>
<rect x="288.50" y="145.82" width="1.60" height="1.75" fill="#ff3535"/>
<rect x="288.50" y="156.03" width="3.00" height="1.75" fill="#ff3535"/>
<rect x="288.50" y="166.93" width="7.00" height="1.75" fill="#ff3535"/>
<rect x="288.50" y="177.12" width="7.30" height="1.75" fill="#ff3535"/>
<rect x="288.50" y="187.82" width="3.00" height="1.75" fill="#ff3535"/>
<rect x="288.50" y="198.53" width="3.00" height="1.75" fill="#ff3535"/>
<rect x="303.30" y="83.33" width="9.80" height="1.75" fill="#ff3535"/>
<rect x="303.30" y="93.22" width="14.00" height="1.75" fill="#ff3535"/>
<rect x="303.30" y="103.92" width="8.90" height="1.75" fill="#ff3535"/>
<rect x="303.30" y="114.22" width="12.20" height="1.75" fill="#ff3535"/>
<rect x="303.30" y="124.92" width="9.80" height="1.75" fill="#ff3535"/>
<rect x="303.30" y="135.32" width="10.90" height="1.75" fill="#ff3535"/>
<rect x="303.30" y="145.82" width="7.20" height="1.75" fill="#ff3535"/>
<rect x="303.30" y="156.03" width="8.50" height="1.75" fill="#ff3535"/>
<rect x="303.30" y="166.93" width="5.40" height="1.75" fill="#ff3535"/>
<rect x="303.30" y="177.12" width="5.40" height="1.75" fill="#ff3535"/>
<rect x="303.30" y="187.82" width="3.60" height="1.75" fill="#ff3535"/>
<rect x="303.30" y="198.53" width="5.40" height="1.75" fill="#ff3535"/>
<rect x="303.30" y="209.03" width="2.20" height="1.75" fill="#ff3535"/>
<rect x="303.30" y="219.62" width="2.20" height="1.75" fill="#ff3535"/>
<rect x="303.30" y="230.12" width="4.90" height="1.75" fill="#ff3535"/>
<rect x="303.30" y="240.53" width="4.30" height="1.75" fill="#ff3535"/>
<rect x="303.30" y="251.12" width="4.90" height="1.75" fill="#ff3535"/>
<rect x="303.30" y="261.82" width="5.40" height="1.75" fill="#ff3535"/>
<rect x="303.30" y="272.43" width="4.90" height="1.75" fill="#ff3535"/>
<rect x="303.30" y="282.52" width="3.60" height="1.75" fill="#ff3535"/>
<rect x="303.30" y="292.93" width="1.60" height="1.75" fill="#ff3535"/>
<rect x="322.20" y="103.92" width="1.80" height="1.75" fill="#ff3535"/>
<rect x="322.20" y="114.22" width="1.60" height="1.75" fill="#ff3535"/>
<rect x="322.20" y="135.32" width="1.60" height="1.75" fill="#ff3535"/>
<rect x="322.20" y="145.82" width="2.30" height="1.75" fill="#ff3535"/>
<rect x="322.20" y="156.03" width="4.70" height="1.75" fill="#ff3535"/>
<rect x="322.20" y="166.93" width="2.70" height="1.75" fill="#ff3535"/>
<rect x="322.20" y="177.12" width="1.60" height="1.75" fill="#ff3535"/>
<rect x="322.20" y="187.82" width="1.60" height="1.75" fill="#ff3535"/>
<rect x="322.20" y="198.53" width="1.60" height="1.75" fill="#ff3535"/>
<rect x="322.20" y="209.03" width="7.30" height="1.75" fill="#ff3535"/>
<rect x="322.20" y="219.62" width="2.90" height="1.75" fill="#ff3535"/>
<rect x="322.20" y="230.12" width="3.60" height="1.75" fill="#ff3535"/>
<rect x="322.20" y="240.53" width="2.30" height="1.75" fill="#ff3535"/>
<rect x="322.20" y="251.12" width="4.20" height="1.75" fill="#ff3535"/>
<rect x="322.20" y="261.82" width="4.70" height="1.75" fill="#ff3535"/>
<rect x="322.20" y="272.43" width="10.00" height="1.75" fill="#ff3535"/>
<rect x="322.20" y="282.52" width="6.00" height="1.75" fill="#ff3535"/>
<rect x="322.20" y="292.93" width="11.40" height="1.75" fill="#ff3535"/>
<rect x="340.20" y="93.22" width="1.60" height="1.75" fill="#ff3535"/>
<rect x="340.20" y="103.92" width="4.00" height="1.75" fill="#ff3535"/>
<rect x="340.20" y="114.22" width="2.70" height="1.75" fill="#ff3535"/>
<rect x="340.20" y="124.92" width="1.60" height="1.75" fill="#ff3535"/>
<rect x="340.20" y="135.32" width="1.60" height="1.75" fill="#ff3535"/>
<rect x="340.20" y="145.82" width="1.60" height="1.75" fill="#ff3535"/>
<rect x="340.20" y="156.03" width="4.90" height="1.75" fill="#ff3535"/>
<rect x="340.20" y="166.93" width="6.70" height="1.75" fill="#ff3535"/>
<rect x="340.20" y="177.12" width="3.80" height="1.75" fill="#ff3535"/>
<rect x="340.20" y="187.82" width="7.60" height="1.75" fill="#ff3535"/>
<rect x="340.20" y="198.53" width="5.80" height="1.75" fill="#ff3535"/>
<rect x="340.20" y="219.62" width="1.60" height="1.75" fill="#ff3535"/>
<rect x="340.20" y="230.12" width="1.60" height="1.75" fill="#ff3535"/>
<rect x="340.20" y="240.53" width="2.90" height="1.75" fill="#ff3535"/>
<rect x="340.20" y="251.12" width="4.00" height="1.75" fill="#ff3535"/>
<rect x="340.20" y="261.82" width="2.50" height="1.75" fill="#ff3535"/>
<rect x="340.20" y="272.43" width="2.50" height="1.75" fill="#ff3535"/>
<rect x="340.20" y="292.93" width="1.60" height="1.75" fill="#ff3535"/>
<rect x="354.20" y="103.92" width="1.60" height="1.75" fill="#ff3535"/>
<rect x="354.20" y="114.22" width="1.60" height="1.75" fill="#ff3535"/>
<rect x="354.20" y="124.92" width="7.10" height="1.75" fill="#ff3535"/>
<rect x="354.20" y="135.32" width="3.60" height="1.75" fill="#ff3535"/>
<rect x="354.20" y="156.03" width="4.00" height="1.75" fill="#ff3535"/>
<rect x="354.20" y="166.93" width="3.60" height="1.75" fill="#ff3535"/>
<rect x="354.20" y="177.12" width="3.60" height="1.75" fill="#ff3535"/>
<rect x="354.20" y="187.82" width="4.90" height="1.75" fill="#ff3535"/>
<rect x="354.20" y="198.53" width="3.60" height="1.75" fill="#ff3535"/>
<rect x="354.20" y="219.62" width="1.60" height="1.75" fill="#ff3535"/>
<rect x="354.20" y="230.12" width="1.80" height="1.75" fill="#ff3535"/>
<rect x="354.20" y="251.12" width="1.60" height="1.75" fill="#ff3535"/>
<rect x="354.20" y="261.82" width="1.60" height="1.75" fill="#ff3535"/>
<rect x="354.20" y="272.43" width="1.60" height="1.75" fill="#ff3535"/>
<rect x="354.20" y="282.52" width="1.60" height="1.75" fill="#ff3535"/>
<rect x="368.80" y="83.33" width="1.60" height="1.75" fill="#ff3535"/>
<rect x="368.80" y="103.92" width="1.60" height="1.75" fill="#ff3535"/>
<rect x="368.80" y="114.22" width="1.60" height="1.75" fill="#ff3535"/>
<rect x="368.80" y="124.92" width="1.70" height="1.75" fill="#ff3535"/>
<rect x="368.80" y="135.32" width="2.10" height="1.75" fill="#ff3535"/>
<rect x="368.80" y="156.03" width="1.60" height="1.75" fill="#ff3535"/>
<rect x="368.80" y="166.93" width="1.70" height="1.75" fill="#ff3535"/>
<rect x="368.80" y="177.12" width="2.50" height="1.75" fill="#ff3535"/>
<rect x="368.80" y="187.82" width="1.60" height="1.75" fill="#ff3535"/>
<rect x="368.80" y="198.53" width="1.60" height="1.75" fill="#ff3535"/>
<rect x="368.80" y="219.62" width="1.60" height="1.75" fill="#ff3535"/>
<rect x="368.80" y="230.12" width="1.70" height="1.75" fill="#ff3535"/>
<rect x="368.80" y="240.53" width="2.10" height="1.75" fill="#ff3535"/>
<rect x="368.80" y="251.12" width="1.60" height="1.75" fill="#ff3535"/>
<rect x="368.80" y="261.82" width="1.70" height="1.75" fill="#ff3535"/>
<rect x="368.80" y="272.43" width="2.70" height="1.75" fill="#ff3535"/>
<rect x="368.80" y="282.52" width="1.70" height="1.75" fill="#ff3535"/>
<rect x="368.80" y="292.93" width="1.60" height="1.75" fill="#ff3535"/>
<rect x="383.20" y="156.03" width="1.60" height="1.75" fill="#ff3535"/>
<rect x="383.20" y="166.93" width="1.60" height="1.75" fill="#ff3535"/>
<rect x="383.20" y="177.12" width="2.30" height="1.75" fill="#ff3535"/>
<rect x="383.20" y="198.53" width="1.70" height="1.75" fill="#ff3535"/>
<rect x="383.20" y="219.62" width="1.60" height="1.75" fill="#ff3535"/>
<rect x="383.20" y="230.12" width="1.60" height="1.75" fill="#ff3535"/>
<rect x="383.20" y="240.53" width="5.50" height="1.75" fill="#ff3535"/>
<rect x="383.20" y="251.12" width="3.70" height="1.75" fill="#ff3535"/>
<rect x="383.20" y="261.82" width="5.90" height="1.75" fill="#ff3535"/>
<rect x="383.20" y="272.43" width="9.90" height="1.75" fill="#ff3535"/>
<rect x="383.20" y="282.52" width="10.80" height="1.75" fill="#ff3535"/>
<rect x="383.20" y="292.93" width="4.70" height="1.75" fill="#ff3535"/>
<rect x="397.60" y="166.93" width="1.60" height="1.75" fill="#22b8ee"/>
<rect x="397.60" y="209.03" width="1.60" height="1.75" fill="#22b8ee"/>
<rect x="397.60" y="230.12" width="2.40" height="1.75" fill="#22b8ee"/>
<rect x="397.60" y="240.53" width="2.00" height="1.75" fill="#22b8ee"/>
<rect x="397.60" y="251.12" width="4.20" height="1.75" fill="#22b8ee"/>
<rect x="397.60" y="261.82" width="5.10" height="1.75" fill="#22b8ee"/>
<rect x="397.60" y="272.43" width="1.60" height="1.75" fill="#22b8ee"/>
<rect x="409.30" y="83.33" width="2.90" height="1.75" fill="#22b8ee"/>
<rect x="409.30" y="93.22" width="1.60" height="1.75" fill="#22b8ee"/>
<rect x="409.30" y="261.82" width="3.40" height="1.75" fill="#22b8ee"/>
<rect x="409.30" y="272.43" width="1.70" height="1.75" fill="#22b8ee"/>
<rect x="409.30" y="282.52" width="8.00" height="1.75" fill="#22b8ee"/>
<rect x="424.10" y="93.22" width="2.30" height="1.75" fill="#22b8ee"/>
<rect x="424.10" y="103.92" width="1.60" height="1.75" fill="#22b8ee"/>
<rect x="424.10" y="114.22" width="1.60" height="1.75" fill="#22b8ee"/>
<rect x="424.10" y="124.92" width="2.80" height="1.75" fill="#22b8ee"/>
<rect x="424.10" y="135.32" width="2.60" height="1.75" fill="#22b8ee"/>
<rect x="424.10" y="145.82" width="1.60" height="1.75" fill="#22b8ee"/>
<rect x="424.10" y="156.03" width="3.20" height="1.75" fill="#22b8ee"/>
<rect x="424.10" y="166.93" width="1.60" height="1.75" fill="#22b8ee"/>
<rect x="424.10" y="177.12" width="4.60" height="1.75" fill="#22b8ee"/>
<rect x="424.10" y="198.53" width="10.10" height="1.75" fill="#22b8ee"/>
<rect x="424.10" y="209.03" width="5.00" height="1.75" fill="#22b8ee"/>
<rect x="424.10" y="219.62" width="4.10" height="1.75" fill="#22b8ee"/>
<rect x="424.10" y="230.12" width="8.10" height="1.75" fill="#22b8ee"/>
<rect x="424.10" y="240.53" width="9.00" height="1.75" fill="#22b8ee"/>
<rect x="424.10" y="251.12" width="3.50" height="1.75" fill="#22b8ee"/>
<rect x="424.10" y="261.82" width="12.80" height="1.75" fill="#22b8ee"/>
<rect x="424.10" y="272.43" width="4.10" height="1.75" fill="#22b8ee"/>
<rect x="424.10" y="282.52" width="9.00" height="1.75" fill="#22b8ee"/>
<rect x="442.20" y="124.92" width="3.80" height="1.75" fill="#22b8ee"/>
<rect x="442.20" y="135.32" width="1.60" height="1.75" fill="#22b8ee"/>
<rect x="442.20" y="145.82" width="2.90" height="1.75" fill="#22b8ee"/>
<rect x="442.20" y="156.03" width="5.60" height="1.75" fill="#22b8ee"/>
<rect x="442.20" y="166.93" width="3.80" height="1.75" fill="#22b8ee"/>
<rect x="442.20" y="177.12" width="8.20" height="1.75" fill="#22b8ee"/>
<rect x="442.20" y="198.53" width="1.60" height="1.75" fill="#22b8ee"/>
<rect x="442.20" y="230.12" width="9.10" height="1.75" fill="#22b8ee"/>
<rect x="442.20" y="292.93" width="6.30" height="1.75" fill="#22b8ee"/>
<rect x="457.20" y="83.33" width="7.70" height="1.75" fill="#22b8ee"/>
<rect x="457.20" y="93.22" width="8.80" height="1.75" fill="#22b8ee"/>
<rect x="457.20" y="103.92" width="10.10" height="1.75" fill="#22b8ee"/>
<rect x="457.20" y="114.22" width="9.20" height="1.75" fill="#22b8ee"/>
<rect x="457.20" y="124.92" width="5.20" height="1.75" fill="#22b8ee"/>
<rect x="457.20" y="135.32" width="4.30" height="1.75" fill="#22b8ee"/>
<rect x="457.20" y="145.82" width="3.30" height="1.75" fill="#22b8ee"/>
<rect x="457.20" y="156.03" width="5.00" height="1.75" fill="#22b8ee"/>
<rect x="457.20" y="166.93" width="5.20" height="1.75" fill="#22b8ee"/>
<rect x="457.20" y="177.12" width="2.80" height="1.75" fill="#22b8ee"/>
<rect x="457.20" y="198.53" width="2.30" height="1.75" fill="#22b8ee"/>
<rect x="457.20" y="209.03" width="1.60" height="1.75" fill="#22b8ee"/>
<rect x="457.20" y="219.62" width="1.60" height="1.75" fill="#22b8ee"/>
<rect x="457.20" y="230.12" width="1.60" height="1.75" fill="#22b8ee"/>
<rect x="457.20" y="240.53" width="1.60" height="1.75" fill="#22b8ee"/>
<rect x="457.20" y="251.12" width="1.60" height="1.75" fill="#22b8ee"/>
<rect x="473.40" y="103.92" width="1.60" height="1.75" fill="#262626"/>
<rect x="473.40" y="114.22" width="1.60" height="1.75" fill="#262626"/>
<rect x="473.40" y="124.92" width="1.60" height="1.75" fill="#262626"/>
<rect x="473.40" y="209.03" width="1.60" height="1.75" fill="#262626"/>
<rect x="473.40" y="219.62" width="4.80" height="1.75" fill="#262626"/>
<rect x="473.40" y="230.12" width="1.60" height="1.75" fill="#262626"/>
<rect x="473.40" y="240.53" width="13.30" height="1.75" fill="#262626"/>
<rect x="473.40" y="251.12" width="5.70" height="1.75" fill="#262626"/>
<rect x="473.40" y="261.82" width="6.20" height="1.75" fill="#262626"/>
<rect x="473.40" y="272.43" width="11.60" height="1.75" fill="#262626"/>
<rect x="473.40" y="282.52" width="5.30" height="1.75" fill="#262626"/>
<rect x="496.00" y="219.62" width="1.80" height="1.75" fill="#262626"/>
<rect x="496.00" y="230.12" width="1.60" height="1.75" fill="#262626"/>
<rect x="496.00" y="240.53" width="6.80" height="1.75" fill="#262626"/>
<rect x="496.00" y="251.12" width="2.60" height="1.75" fill="#262626"/>
<rect x="496.00" y="261.82" width="5.10" height="1.75" fill="#262626"/>
<rect x="496.00" y="272.43" width="5.20" height="1.75" fill="#262626"/>
<rect x="496.00" y="282.52" width="3.50" height="1.75" fill="#262626"/>
<line x1="127.80" y1="83.90" x2="127.80" y2="295.20" stroke="#6e6e6e" stroke-width="1.25"/>
<line x1="164.30" y1="83.90" x2="164.30" y2="295.20" stroke="#6e6e6e" stroke-width="1.25"/>
<line x1="193.50" y1="83.90" x2="193.50" y2="295.20" stroke="#6e6e6e" stroke-width="1.25"/>
<line x1="213.40" y1="83.90" x2="213.40" y2="295.20" stroke="#6e6e6e" stroke-width="1.25"/>
<line x1="228.70" y1="83.90" x2="228.70" y2="295.20" stroke="#6e6e6e" stroke-width="1.25"/>
<line x1="243.50" y1="83.90" x2="243.50" y2="295.20" stroke="#6e6e6e" stroke-width="1.25"/>
<line x1="261.70" y1="83.90" x2="261.70" y2="295.20" stroke="#6e6e6e" stroke-width="1.25"/>
<line x1="273.50" y1="83.90" x2="273.50" y2="295.20" stroke="#6e6e6e" stroke-width="1.25"/>
<line x1="288.70" y1="83.90" x2="288.70" y2="295.20" stroke="#6e6e6e" stroke-width="1.25"/>
<line x1="303.50" y1="83.90" x2="303.50" y2="295.20" stroke="#6e6e6e" stroke-width="1.25"/>
<line x1="322.40" y1="83.90" x2="322.40" y2="295.20" stroke="#6e6e6e" stroke-width="1.25"/>
<line x1="340.40" y1="83.90" x2="340.40" y2="295.20" stroke="#6e6e6e" stroke-width="1.25"/>
<line x1="354.40" y1="83.90" x2="354.40" y2="295.20" stroke="#6e6e6e" stroke-width="1.25"/>
<line x1="369.00" y1="83.90" x2="369.00" y2="295.20" stroke="#6e6e6e" stroke-width="1.25"/>
<line x1="383.40" y1="83.90" x2="383.40" y2="295.20" stroke="#6e6e6e" stroke-width="1.25"/>
<line x1="397.80" y1="83.90" x2="397.80" y2="295.20" stroke="#6e6e6e" stroke-width="1.25"/>
<line x1="409.50" y1="83.90" x2="409.50" y2="295.20" stroke="#6e6e6e" stroke-width="1.25"/>
<line x1="424.30" y1="83.90" x2="424.30" y2="295.20" stroke="#6e6e6e" stroke-width="1.25"/>
<line x1="442.40" y1="83.90" x2="442.40" y2="295.20" stroke="#6e6e6e" stroke-width="1.25"/>
<line x1="457.40" y1="83.90" x2="457.40" y2="295.20" stroke="#6e6e6e" stroke-width="1.25"/>
<line x1="473.60" y1="83.90" x2="473.60" y2="295.20" stroke="#6e6e6e" stroke-width="1.25"/>
<line x1="496.20" y1="83.90" x2="496.20" y2="295.20" stroke="#6e6e6e" stroke-width="1.25"/>
<polyline fill="none" stroke="#333" stroke-width="0.9" points="473.4,84.4 480.6,84.4 479.2,94.6 495.8,104.0 495.8,107.0 491.1,115.3 479.0,126.0 477.6,136.7 475.9,147.0 477.4,158.5 476.4,168.1 474.8,178.6 473.6,188.6 475.9,199.5 491.2,210.5 496.0,210.5"/>
<line x1="473.40" y1="294.50" x2="496.00" y2="291.20" stroke="#444" stroke-width="0.9"/>
<polyline fill="none" stroke="#333" stroke-width="0.9" points="496.0,84.4 498.9,84.4 500.0,94.6 504.4,104.5 503.0,115.7 497.8,126.1 497.1,136.8 496.6,147.2 496.3,157.7 496.2,168.1 496.2,178.6 496.2,189.1 496.4,199.5 505.7,210.1 519.2,215.0"/>
<polyline fill="none" stroke="#333" stroke-width="0.9" points="519.2,227.1 506.2,231.6 519.2,232.1"/>
<line x1="496.00" y1="294.50" x2="519.70" y2="291.20" stroke="#444" stroke-width="0.9"/>
<line x1="520.00" y1="81.70" x2="520.00" y2="296.80" stroke="#3a3a3a" stroke-width="1.8"/>
<text x="162.00" y="302.20" font-size="6.6" text-anchor="middle" class="n">100</text>
<text x="189.00" y="302.20" font-size="6.6" text-anchor="middle" class="n">1500</text>
<text x="209.80" y="302.20" font-size="6.6" text-anchor="middle" class="n">100</text>
<text x="226.90" y="302.20" font-size="6.6" text-anchor="middle" class="n">4</text>
<text x="240.80" y="302.20" font-size="6.6" text-anchor="middle" class="n">15</text>
<text x="259.20" y="302.20" font-size="6.6" text-anchor="middle" class="n">10</text>
<text x="271.90" y="302.20" font-size="6.6" text-anchor="middle" class="n">5</text>
<text x="286.40" y="302.20" font-size="6.6" text-anchor="middle" class="n">40</text>
<text x="302.10" y="302.20" font-size="6.6" text-anchor="middle" class="n">20</text>
<text x="321.00" y="302.20" font-size="6.6" text-anchor="middle" class="n">50</text>
<text x="338.00" y="302.20" font-size="6.6" text-anchor="middle" class="n">10</text>
<text x="353.10" y="302.20" font-size="6.6" text-anchor="middle" class="n">5</text>
<text x="368.00" y="302.20" font-size="6.6" text-anchor="middle" class="n">10</text>
<text x="382.50" y="302.20" font-size="6.6" text-anchor="middle" class="n">10</text>
<text x="396.00" y="302.20" font-size="6.6" text-anchor="middle" class="n">10</text>
<text x="408.10" y="302.20" font-size="6.6" text-anchor="middle" class="n">5</text>
<text x="422.90" y="302.20" font-size="6.6" text-anchor="middle" class="n">10</text>
<text x="440.70" y="302.20" font-size="6.6" text-anchor="middle" class="n">50</text>
<text x="456.20" y="302.20" font-size="6.6" text-anchor="middle" class="n">20</text>
<text x="470.60" y="302.20" font-size="6.6" text-anchor="middle" class="n">100</text>
<text x="494.0" y="303.2" font-size="6.2" text-anchor="middle">2×10<tspan dy="-2.6" font-size="3.6">5</tspan></text>
<text x="515.6" y="303.2" font-size="6.2" text-anchor="middle">4×10<tspan dy="-2.6" font-size="3.6">5</tspan></text>
<text transform="translate(130.60,79.20) rotate(-58.5)" class="r" x="0" y="0" font-size="8.2">Arboreal</text>
<text transform="translate(143.30,81.90) rotate(-58.5)" class="r" x="0" y="0" font-size="8.7">Non-Arboreal</text>
<text transform="translate(158.40,81.30) rotate(-58.5)" class="r" x="0" y="0" font-size="8.7">Non-terrestrial</text>
<text transform="translate(176.80,82.20) rotate(-58.5)" class="r" x="0" y="0" font-size="8.7">Sum pollen</text>
<text transform="translate(200.30,81.90) rotate(-58.5)" class="r" x="0" y="0" font-size="8.7">Pinus</text>
<text transform="translate(219.90,80.80) rotate(-58.5)" class="r" x="0" y="0" font-size="8.7">Quercus E</text>
<text transform="translate(235.70,80.80) rotate(-58.5)" class="r" x="0" y="0" font-size="8.7">Quercus D</text>
<text transform="translate(251.00,80.20) rotate(-58.5)" class="r" x="0" y="0" font-size="8.7">Betulaceae</text>
<text transform="translate(279.40,81.90) rotate(-58.5)" class="r" x="0" y="0" font-size="8.7">&gt;35μm Poaceae</text>
<text transform="translate(294.10,81.90) rotate(-58.5)" class="r" x="0" y="0" font-size="8.7">Fagopyrum Mill</text>
<text transform="translate(310.40,81.30) rotate(-58.5)" class="r" x="0" y="0" font-size="8.7">&lt;35μm Poaceae</text>
<text transform="translate(327.20,79.70) rotate(-58.5)" class="r" x="0" y="0" font-size="8.7">Polygonaceae</text>
<text transform="translate(344.60,79.70) rotate(-58.5)" class="r" x="0" y="0" font-size="8.7">Chenopodiaceae</text>
<text transform="translate(359.90,79.70) rotate(-58.5)" class="r" x="0" y="0" font-size="8.7">Artemisia</text>
<text transform="translate(372.40,80.20) rotate(-58.5)" class="r" x="0" y="0" font-size="8.7">Asteraceae</text>
<text transform="translate(386.10,79.10) rotate(-58.5)" class="r" x="0" y="0" font-size="8.7">Cyperaceae</text>
<text transform="translate(399.20,79.10) rotate(-58.5)" class="r" x="0" y="0" font-size="8.7">Typha</text>
<text transform="translate(415.00,79.10) rotate(-58.5)" class="r" x="0" y="0" font-size="8.7">Gleicheniaceae</text>
<text transform="translate(432.40,79.10) rotate(-58.5)" class="r" x="0" y="0" font-size="8.7">Polypodiaceae</text>
<text transform="translate(447.60,79.10) rotate(-58.5)" class="r" x="0" y="0" font-size="8.7">Selaginella</text>
<text transform="translate(460.70,79.10) rotate(-58.5)" class="r" x="0" y="0" font-size="8.7">Multispomila</text>
<text transform="translate(477.10,79.10) rotate(-58.5)" class="r" x="0" y="0" font-size="8.7">Spore concentration</text>
<text transform="translate(503.50,80.70) rotate(-58.5)" class="r" x="0" y="0" font-size="8.7">Pollen concentration</text>
<polyline fill="none" stroke="#3a3a3a" stroke-width="0.9" points="222.2,35.6 241.1,8.6 248.6,8.6"/>
<polyline fill="none" stroke="#3a3a3a" stroke-width="0.9" points="279.8,8.6 291.3,8.6 273.1,35.6"/>
<text x="249.20" y="11.90" font-size="8.2" text-anchor="start" >Arboreal</text>
<polyline fill="none" stroke="#3a3a3a" stroke-width="0.9" points="312.3,20.4 321.7,8.6 345.5,8.6"/>
<polyline fill="none" stroke="#3a3a3a" stroke-width="0.9" points="409.8,8.9 437.2,8.9 420.2,33.6"/>
<text x="352.30" y="11.60" font-size="8.2" text-anchor="start" >Non-Arboreal</text>
<polyline fill="none" stroke="#3a3a3a" stroke-width="0.9" points="443.9,17.8 449.8,8.9 483.5,8.9"/>
<polyline fill="none" stroke="#3a3a3a" stroke-width="0.9" points="510.9,8.9 545.1,8.9 540.8,15.5"/>
<text x="487.20" y="12.00" font-size="8.2" text-anchor="start" >Spore</text>
</svg>
</body></html>
